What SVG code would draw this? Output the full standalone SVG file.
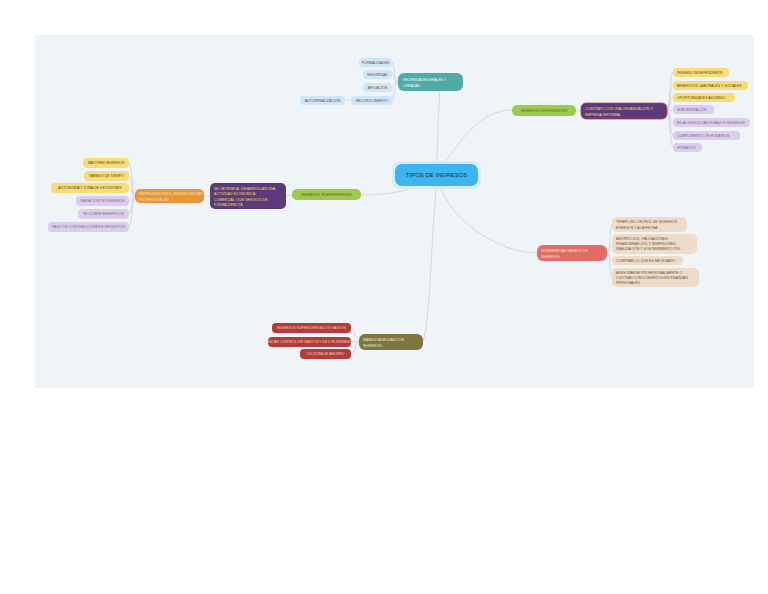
<svg xmlns="http://www.w3.org/2000/svg" width="768" height="594" viewBox="0 0 768 594">
<style>
text{font-family:"Liberation Sans",Arial,sans-serif;font-size:3.5px}
.c path{fill:none;stroke:#c9d2da;stroke-width:0.8}
.lb rect{fill:#cfe6f7}.lb text{fill:#8a3a3a}
.ye rect{fill:#f8dc78}.ye text{fill:#5a4a10}
.pu rect{fill:#dccdec}.pu text{fill:#7a6a9a}
.be rect{fill:#ecdcc8}.be text{fill:#6a5040}
.dr rect{fill:#b43c38}.dr text{fill:#f2d6c8}
</style>
<rect width="768" height="594" fill="#fff"/>
<rect x="35" y="35" width="719" height="353" fill="#eff4f8"/>
<g class="c">
<path d="M437 175 C437 130 440 95 440 82"/>
<path d="M437 175 C460 140 480 110 512 110"/>
<path d="M437 175 C420 190 390 195 361 195"/>
<path d="M437 175 C445 220 500 253 537 253"/>
<path d="M437 175 C430 260 430 320 423 342"/>
<path d="M398 82 C394 82 394 62 392 62 M398 82 C394 82 394 74 392 74 M398 82 C394 82 394 87 392 87 M398 82 C394 82 394 100 393 100 M351 100 L345 100"/>
<path d="M576 111 L581 111"/>
<path d="M667 111 C670 111 670 72 673 72 M667 111 C670 111 670 85 673 85 M667 111 C670 111 670 97 673 97 M667 111 L673 110 M667 111 C670 111 670 122 673 122 M667 111 C670 111 670 135 673 135 M667 111 C670 111 670 147 673 147"/>
<path d="M292 195 L286 196 M210 196 L204 196"/>
<path d="M135 196 C132 196 132 163 129 163 M135 196 C132 196 132 176 129 176 M135 196 C132 196 132 188 129 188 M135 196 C132 196 132 201 129 201 M135 196 C132 196 132 214 129 214 M135 196 C132 196 132 227 129 227"/>
<path d="M607 253 C610 253 610 224 612 224 M607 253 C610 253 610 244 612 244 M607 253 C610 253 610 260 612 260 M607 253 C610 253 610 277 612 277"/>
<path d="M359 342 C355 342 355 328 351 328 M359 342 L351 342 M359 342 C355 342 355 354 351 354"/>
</g>
<g id="center"><rect x="392" y="161" width="89" height="28" rx="8" fill="#d6ecf8"/><rect x="395" y="164" width="83" height="22" rx="7" fill="#3db6ef"/><text x="436.5" y="177" text-anchor="middle" style="font-size:6px" fill="#13334a">TIPOS DE INGRESOS</text></g>
<g id="necesidades"><rect x="398" y="73" width="65" height="18" rx="6" fill="#50aaa7"/><text x="403" y="80.5" fill="#fff">NECESIDADES REALES Y</text><text x="403" y="86.5" fill="#fff">CREADAS</text></g>
<g id="formalidades" class="lb"><rect x="359" y="58" width="33" height="9" rx="4"/><text x="375.5" y="63.7" text-anchor="middle">FORMALIDADES</text></g>
<g id="seguridad" class="lb"><rect x="363" y="70" width="29" height="9" rx="4"/><text x="377.5" y="75.7" text-anchor="middle">SEGURIDAD</text></g>
<g id="afiliacion" class="lb"><rect x="363" y="83" width="29" height="9" rx="4"/><text x="377.5" y="88.7" text-anchor="middle">AFILIACIÓN</text></g>
<g id="reconocimiento" class="lb"><rect x="351" y="96" width="42" height="9" rx="4"/><text x="372" y="101.7" text-anchor="middle">RECONOCIMIENTO</text></g>
<g id="autorrealizacion" class="lb"><rect x="300" y="96" width="45" height="9" rx="4"/><text x="322.5" y="101.7" text-anchor="middle">AUTORREALIZACIÓN</text></g>
<g id="dependientes"><rect x="512" y="105" width="64" height="11" rx="5" fill="#9cca50"/><text x="544" y="111.8" text-anchor="middle" fill="#5a6a20">INGRESOS DEPENDIENTES</text></g>
<g id="contrato"><rect x="581" y="103" width="86" height="16" rx="5" fill="#5b3b79" stroke="#c0404a" stroke-width="0.8"/><text x="585" y="110" fill="#f5d86a">CONTRATO CON UNA ORGANIZACIÓN O</text><text x="585" y="115.5" fill="#f5d86a">EMPRESA INFORMAL</text></g>
<g id="d1" class="ye"><rect x="673" y="68" width="56" height="9" rx="4"/><text x="677" y="73.7">INGRESO INDEPENDIENTE</text></g>
<g id="d2" class="ye"><rect x="673" y="81" width="75" height="9" rx="4"/><text x="677" y="86.7">BENEFICIOS LABORALES Y SOCIALES</text></g>
<g id="d3" class="ye"><rect x="673" y="93" width="62" height="9" rx="4"/><text x="677" y="98.7">OPORTUNIDADES ASCENSO</text></g>
<g id="d4" class="pu"><rect x="673" y="105" width="41" height="9" rx="4"/><text x="677" y="110.7">SUBORDINACIÓN</text></g>
<g id="d5" class="pu"><rect x="673" y="118" width="77" height="9" rx="4"/><text x="677" y="123.7">EN ALGUNOS CASOS BAJOS INGRESOS</text></g>
<g id="d6" class="pu"><rect x="673" y="131" width="67" height="9" rx="4"/><text x="677" y="136.7">CUMPLIMIENTO DE HORARIOS</text></g>
<g id="d7" class="pu"><rect x="673" y="143" width="29" height="9" rx="4"/><text x="677" y="148.7">HORARIOS</text></g>
<g id="independientes"><rect x="292" y="189" width="69" height="11" rx="5" fill="#9cca50"/><text x="326.5" y="195.8" text-anchor="middle" fill="#7a4a20">INGRESOS INDEPENDIENTES</text></g>
<g id="obtiene"><rect x="210" y="183" width="76" height="26" rx="5" fill="#5b3b79"/><text x="214" y="189.5" fill="#f5d86a">SE OBTIENE AL DESARROLLAR UNA</text><text x="214" y="195" fill="#f5d86a">ACTIVIDAD ECONÓMICA,</text><text x="214" y="200.5" fill="#f5d86a">COMERCIAL O DE SERVICIO DE</text><text x="214" y="206" fill="#f5d86a">FORMA DIRECTA</text></g>
<g id="emprendedores"><rect x="135" y="189" width="69" height="14" rx="5" fill="#e8963a"/><text x="139" y="195" fill="#f8e0b0">EMPRENDEDORES, INVERSIONISTAS,</text><text x="139" y="200.5" fill="#f8e0b0">PROFESIONALES</text></g>
<g id="i1" class="ye"><rect x="83" y="158" width="46" height="10" rx="4"/><text x="106" y="164.2" text-anchor="middle">MAYORES INGRESOS</text></g>
<g id="i2" class="ye"><rect x="84" y="171" width="45" height="10" rx="4"/><text x="106.5" y="177.2" text-anchor="middle">MANEJO DE TIEMPO</text></g>
<g id="i3" class="ye"><rect x="51" y="183" width="78" height="10" rx="4"/><text x="90" y="189.2" text-anchor="middle">AUTONOMÍA Y TOMA DE DECISIONES</text></g>
<g id="i4" class="pu"><rect x="76" y="196" width="53" height="10" rx="4"/><text x="102.5" y="202.2" text-anchor="middle">VARIACIÓN DE INGRESOS</text></g>
<g id="i5" class="pu"><rect x="78" y="209" width="51" height="10" rx="4"/><text x="103.5" y="215.2" text-anchor="middle">NO CUBRE BENEFICIOS</text></g>
<g id="i6" class="pu"><rect x="48" y="222" width="81" height="10" rx="4"/><text x="88.5" y="228.2" text-anchor="middle">PAGO DE CONTRIBUCIONES E IMPUESTOS</text></g>
<g id="sugerencias"><rect x="537" y="245" width="70" height="16" rx="6" fill="#e06c65"/><text x="541" y="252" fill="#fde0e0">SUGERENCIAS MANEJO DE</text><text x="541" y="257.5" fill="#fde0e0">INGRESOS</text></g>
<g id="s1" class="be"><rect x="612" y="217" width="75" height="15" rx="5"/><text x="616" y="223">TENER UN CONTROL DE INGRESOS,</text><text x="616" y="228.5">EGRESOS Y A LA FECHA</text></g>
<g id="s2" class="be"><rect x="612" y="234" width="85" height="20" rx="5"/><text x="616" y="240">AHORRO 10%, OBLIGACIONES</text><text x="616" y="245">FINANCIERAS 20% Y INVERSIONES,</text><text x="616" y="250">REALIZACIÓN Y SOSTENIMIENTO 70%</text></g>
<g id="s3" class="be"><rect x="612" y="256" width="71" height="9" rx="4"/><text x="616" y="261.7">COMPRAR LO QUE ES NECESARIO</text></g>
<g id="s4" class="be"><rect x="612" y="268" width="87" height="19" rx="5"/><text x="616" y="274">ASESORARSE PROFESIONALMENTE  O</text><text x="616" y="279">CULTIVAR CONOCIMIENTOS EN FINANZAS</text><text x="616" y="284">PERSONALES</text></g>
<g id="manejo"><rect x="359" y="334" width="64" height="16" rx="6" fill="#7d7641"/><text x="363" y="341" fill="#e8f0d8">MANEJO ADECUADO DE</text><text x="363" y="346.5" fill="#e8f0d8">INGRESOS</text></g>
<g id="m1" class="dr"><rect x="272" y="323" width="79" height="10" rx="4"/><text x="311.5" y="329.2" text-anchor="middle">INGRESOS SUPERIORES A LOS GASTOS</text></g>
<g id="m2" class="dr"><rect x="268" y="337" width="83" height="10" rx="4"/><text x="309.5" y="343.2" text-anchor="middle">BUSCAR CONTROL DE GASTOS Y DE LOS INGRESOS</text></g>
<g id="m3" class="dr"><rect x="300" y="349" width="51" height="10" rx="4"/><text x="325.5" y="355.2" text-anchor="middle">CULTURA DE AHORRO</text></g>
</svg>
